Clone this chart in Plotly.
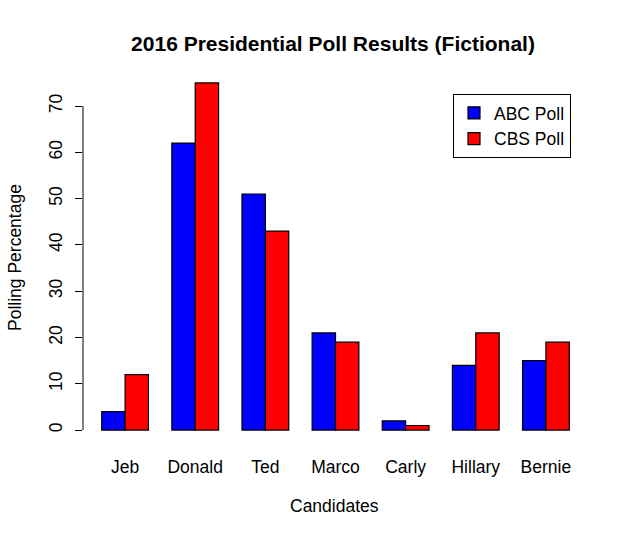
import plotly.graph_objects as go

candidates = ["Jeb", "Donald", "Ted", "Marco", "Carly", "Hillary", "Bernie"]
abc_poll = [4, 62, 51, 21, 2, 14, 15]
cbs_poll = [12, 75, 43, 19, 1, 21, 19]
y_ticks = [0, 10, 20, 30, 40, 50, 60, 70]

FONT = "Liberation Sans, Arial, sans-serif"
FS = 17.5

fig = go.Figure()
fig.add_trace(go.Bar(x=candidates, y=abc_poll, name="ABC Poll",
                     marker=dict(color="#0000FF", line=dict(color="black", width=1.2))))
fig.add_trace(go.Bar(x=candidates, y=cbs_poll, name="CBS Poll",
                     marker=dict(color="#FF0000", line=dict(color="black", width=1.2))))

fig.update_layout(
    width=629, height=538,
    margin=dict(l=83, r=41, t=69, b=94),
    plot_bgcolor="white", paper_bgcolor="white",
    barmode="group", bargap=1/3, bargroupgap=0,
    font=dict(family=FONT, size=FS, color="black"),
    title=dict(text="<b>2016 Presidential Poll Results (Fictional)</b>",
               x=333/629, xanchor="center", y=1 - 44/538, yanchor="middle",
               font=dict(size=21, family=FONT)),
    legend=dict(x=(453-83)/505, y=(444-94)/375, xanchor="left", yanchor="top",
                bordercolor="black", borderwidth=1, bgcolor="white",
                font=dict(size=FS, family=FONT), tracegroupgap=0,
                itemwidth=30),
    showlegend=True,
)
fig.update_xaxes(range=[-0.6, 6.6], showline=False, ticks="", showgrid=False,
                 zeroline=False, tickfont=dict(size=FS), ticklabelstandoff=10)
fig.update_yaxes(range=[-3, 78], tickvals=y_ticks, ticktext=[str(v) for v in y_ticks],
                 showline=False, ticks="outside", ticklen=7, tickcolor="black",
                 tickwidth=1, showgrid=False, zeroline=False, tickangle=-90,
                 tickfont=dict(size=FS), ticklabelstandoff=6)

fig.add_shape(type="line", xref="paper", yref="y", x0=0, x1=0,
              y0=y_ticks[0], y1=y_ticks[-1], line=dict(color="black", width=1))

fig.add_annotation(text="Candidates", xref="paper", yref="paper",
                   x=(334-83)/505, y=-(506-444)/375, showarrow=False,
                   xanchor="center", yanchor="middle", font=dict(size=FS))
fig.add_annotation(text="Polling Percentage", xref="paper", yref="paper",
                   x=-(83-15)/505, y=(444-258)/375, showarrow=False, textangle=-90,
                   xanchor="center", yanchor="middle", font=dict(size=FS))

fig.write_html("out.html")
